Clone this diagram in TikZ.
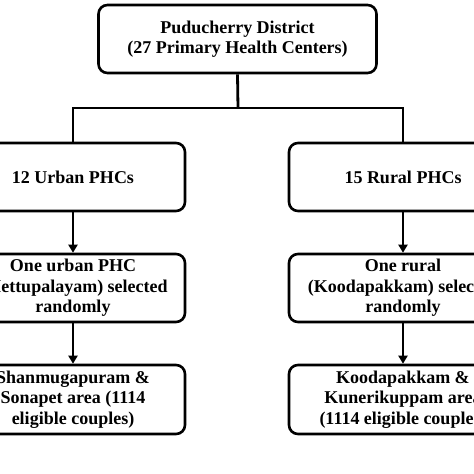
\documentclass[tikz,border=0pt]{standalone}
\usepackage{fontspec}
\setmainfont{Liberation Serif}
\usetikzlibrary{arrows.meta}
\begin{document}
\begin{tikzpicture}[x=1pt,y=-1pt,
  box/.style={draw=black,line width=2.6pt,rounded corners=9pt,align=center,inner sep=0pt,
    font=\fontsize{18}{20.5}\selectfont\bfseries,text=black},
  conn/.style={draw=black,line width=2.8pt},
  arr/.style={conn,-{Triangle[width=9pt,length=8pt]}}]
\useasboundingbox (0,0) rectangle (474,474);
\clip (0,0) rectangle (474,474);
\fill[white] (0,0) rectangle (474,474);
\node[box,minimum width=278pt,minimum height=68pt] (top) at (237.5,39) {Puducherry District\\(27 Primary Health Centers)};
\node[box,minimum width=224pt,minimum height=68pt] (urban) at (73,177) {12 Urban PHCs};
\node[box,minimum width=228pt,minimum height=68pt] (rural) at (403,177) {15 Rural PHCs};
\node[box,minimum width=224pt,minimum height=68pt] (midl) at (73,288) {One urban PHC\\(Mettupalayam) selected\\randomly};
\node[box,minimum width=228pt,minimum height=68pt] (midr) at (403,288) {One rural\\(Koodapakkam) selected\\randomly};
\node[box,minimum width=224pt,minimum height=69pt] (botl) at (73,399.5) {Shanmugapuram \&\\Sonapet area (1114\\eligible couples)};
\node[box,minimum width=228pt,minimum height=69pt] (botr) at (403,399.5) {Koodapakkam \&\\Kunerikuppam area\\(1114 eligible couples)};
\coordinate (j) at (238,108);
\draw[conn] (top.south) -- (j);
\draw[conn] (urban.north) |- (j) -| (rural.north);
\draw[arr] (urban.south) -- (midl.north);
\draw[arr] (rural.south) -- (midr.north);
\draw[arr] (midl.south) -- (botl.north);
\draw[arr] (midr.south) -- (botr.north);
\end{tikzpicture}
\end{document}
